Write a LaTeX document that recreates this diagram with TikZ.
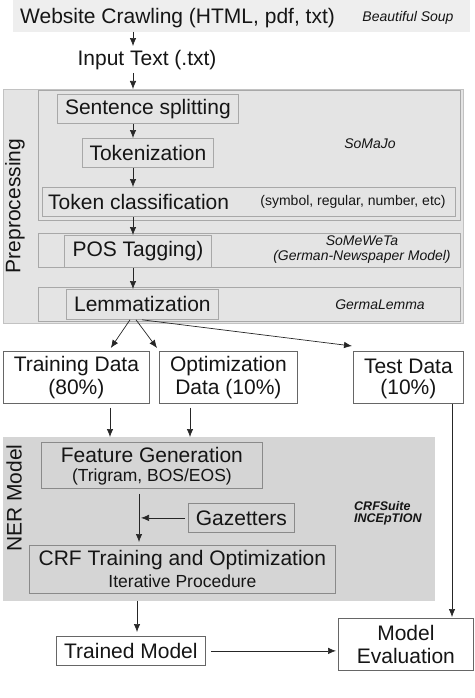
\documentclass[tikz,border=0pt]{standalone}
\usepackage{fontspec}
\setmainfont{Liberation Sans}
\usetikzlibrary{arrows.meta}
\definecolor{bannerfill}{HTML}{EEEEEE}
\definecolor{prefill}{HTML}{E4E4E4}
\definecolor{preline}{HTML}{A8A8A8}
\definecolor{nerfill}{HTML}{D5D5D5}
\definecolor{nerline}{HTML}{8A8A8A}
\definecolor{wline}{HTML}{666666}
\definecolor{txt}{HTML}{151515}
\tikzset{
  bigfont/.style={font=\fontsize{21}{24}\selectfont, text=txt},
  midfont/.style={font=\fontsize{17.5}{20}\selectfont, text=txt},
  smallit/.style={font=\fontsize{14}{16}\selectfont\itshape, text=txt},
  smallrm/.style={font=\fontsize{14}{16}\selectfont, text=txt},
  boldit/.style={font=\fontsize{12.5}{14}\selectfont\bfseries\itshape, text=txt, align=left},
  gbox/.style={draw=preline, fill=prefill, line width=0.8pt, inner sep=0pt, bigfont},
  nbox/.style={draw=nerline, fill=nerfill, line width=0.8pt, inner sep=0pt, bigfont, align=center},
  wbox/.style={draw=wline, fill=white, line width=0.8pt, inner sep=0pt, bigfont, align=center},
  arr/.style={draw=black!85, line width=0.7pt, -{Latex[length=8pt,width=6.5pt]}},
}
\begin{document}
\begin{tikzpicture}[x=1pt,y=-1pt]
\useasboundingbox (0,0) rectangle (474,698);
% banner
\fill[bannerfill] (13,0) rectangle (470,32);
\node[bigfont, anchor=west, inner sep=0pt] (crawl) at (20,18) {Website Crawling (HTML, pdf, txt)};
\node[smallit, inner sep=0pt] (bsoup) at (408,18) {Beautiful Soup};
\coordinate (ax) at (133,0);
\node[bigfont, inner sep=0pt] (input) at (147,60) {Input Text (.txt)};

% preprocessing
\node[draw=prefill!85!black, fill=prefill, line width=0.5pt, minimum width=460pt, minimum height=234pt, anchor=north west, inner sep=0pt] (pre) at (3,89) {};
\node[bigfont, rotate=90, inner sep=0pt] (prelabel) at (15,206) {Preprocessing};
\node[draw=preline, fill=prefill, line width=0.6pt, minimum width=422pt, minimum height=130pt, anchor=north west, inner sep=0pt] (grp1) at (38,90) {};
\node[gbox, minimum width=181pt, minimum height=29pt, anchor=north west] (ss) at (57,94) {};
\node[bigfont, inner sep=0pt] at (ss.center) {Sentence splitting};
\node[gbox, minimum width=131pt, minimum height=29pt, anchor=north west] (tok) at (82,138) {};
\node[bigfont, inner sep=0pt] at (tok.center) {Tokenization};
\node[gbox, minimum width=413pt, minimum height=29pt, anchor=north west] (tc) at (42,187) {};
\node[bigfont, anchor=west, inner sep=0pt] (tclab) at ([xshift=6pt]tc.west) {Token classification};
\node[smallrm, anchor=east, inner sep=0pt] (tcnote) at ([xshift=-10pt]tc.east) {(symbol, regular, number, etc)};
\node[smallit, inner sep=0pt] (somajo) at (370,144) {SoMaJo};

\node[draw=preline, fill=prefill, line width=0.6pt, minimum width=422pt, minimum height=34pt, anchor=north west, inner sep=0pt] (grp2) at (38,233) {};
\node[gbox, minimum width=147pt, minimum height=32pt, anchor=north west] (pos) at (64,235) {};
\node[bigfont, inner sep=0pt] at (pos.center) {POS Tagging)};
\node[smallit, inner sep=0pt] (someweta) at (362,241) {SoMeWeTa};
\node[smallit, inner sep=0pt] (gnm) at (362,257) {(German-Newspaper Model)};

\node[draw=preline, fill=prefill, line width=0.6pt, minimum width=422pt, minimum height=34pt, anchor=north west, inner sep=0pt] (grp3) at (38,287) {};
\node[gbox, minimum width=152pt, minimum height=30pt, anchor=north west] (lem) at (66,289) {};
\node[bigfont, inner sep=0pt] at (lem.center) {Lemmatization};
\node[smallit, inner sep=0pt] (germa) at (380,305) {GermaLemma};

% data split
\node[wbox, minimum width=146pt, minimum height=52pt, anchor=north west] (train) at (3,351) {};
\node[bigfont, inner sep=0pt] at ([yshift=11.5pt]train.center) {Training Data};
\node[bigfont, inner sep=0pt] at ([yshift=-12pt]train.center) {(80\%)};
\node[wbox, minimum width=138pt, minimum height=52pt, anchor=north west] (opt) at (159,351) {};
\node[bigfont, inner sep=0pt] at ([yshift=11.5pt]opt.center) {Optimization};
\node[bigfont, inner sep=0pt] at ([yshift=-12pt]opt.center) {Data (10\%)};
\node[wbox, minimum width=110pt, minimum height=52pt, anchor=north west] (test) at (353,351) {};
\node[bigfont, inner sep=0pt] at ([yshift=11.5pt]test.center) {Test Data};
\node[bigfont, inner sep=0pt] at ([yshift=-12pt]test.center) {(10\%)};

% NER
\node[fill=nerfill, minimum width=432pt, minimum height=164pt, anchor=north west, inner sep=0pt] (ner) at (3,437) {};
\node[bigfont, rotate=90, inner sep=0pt] (nerlabel) at (14,498) {NER Model};
\node[nbox, minimum width=221pt, minimum height=46pt, anchor=north west] (fg) at (41,442) {};
\node[bigfont, inner sep=0pt] at ([yshift=10pt]fg.center) {Feature Generation};
\node[midfont, inner sep=0pt] at ([yshift=-12pt]fg.center) {(Trigram, BOS/EOS)};
\node[nbox, minimum width=106pt, minimum height=29pt, anchor=north west] (gaz) at (188,503) {};
\node[bigfont, inner sep=0pt] at (gaz.center) {Gazetters};
\node[nbox, minimum width=306pt, minimum height=48pt, anchor=north west] (crf) at (29,545) {};
\node[bigfont, inner sep=0pt] at ([yshift=9pt]crf.center) {CRF Training and Optimization};
\node[midfont, inner sep=0pt] at ([yshift=-12pt]crf.center) {Iterative Procedure};
\node[boldit, anchor=west, inner sep=0pt] (crfs) at (354,506) {CRFSuite};
\node[boldit, anchor=west, inner sep=0pt] (incep) at (354,519.5) {INCEpTION};

% outputs
\node[wbox, minimum width=149pt, minimum height=29pt, anchor=north west] (trained) at (56,636) {};
\node[bigfont, inner sep=0pt] at (trained.center) {Trained Model};
\node[wbox, minimum width=135pt, minimum height=52pt, anchor=north west] (eval) at (338,618) {};
\node[bigfont, inner sep=0pt] at ([yshift=11.5pt]eval.center) {Model};
\node[bigfont, inner sep=0pt] at ([yshift=-12pt]eval.center) {Evaluation};

% coordinates for connectors
\coordinate (fgx) at (139,0);
\coordinate (crfx) at (137,0);
\coordinate (testx) at (452,0);
\coordinate (trx) at (110,0);
\coordinate (opx) at (190,0);
\coordinate (gzx) at (141,0);

% connectors
\draw[arr] ([yshift=-4pt]crawl.south -| ax) -- ([yshift=4pt]input.north -| ax);
\draw[arr] ([yshift=-3pt]input.south -| ax) -- (pre.north -| ax);
\draw[arr] (ss.south -| ax) -- (tok.north -| ax);
\draw[arr] (tok.south -| ax) -- (tc.north -| ax);
\draw[arr] (tc.south -| ax) -- (pos.north -| ax);
\draw[arr] (pos.south -| ax) -- (lem.north -| ax);
\draw[arr] ([xshift=-3pt]lem.south -| ax) -- ([xshift=-39pt,yshift=3pt]train.north east);
\draw[arr] ([xshift=3pt]lem.south -| ax) -- ([xshift=-2pt,yshift=3pt]opt.north west);
\draw[arr] ([xshift=9pt]lem.south -| ax) -- ([xshift=-1pt,yshift=5pt]test.north west);
\draw[arr] ([yshift=-4pt]train.south -| trx) -- (ner.north -| trx);
\draw[arr] ([yshift=-4pt]opt.south -| opx) -- (ner.north -| opx);
\draw[arr] ([yshift=-5pt]fg.south -| fgx) -- ([yshift=3pt]crf.north -| fgx);
\draw[arr] ([xshift=-3pt]gaz.west) -- (gaz.west -| gzx);
\draw[arr] ([yshift=-7pt]crf.south -| crfx) -- ([yshift=4pt]trained.north -| crfx);
\draw[arr] ([xshift=5pt]trained.east) -- ([xshift=-2pt]trained.east -| eval.west);
\draw[arr] (test.south -| testx) -- ([yshift=1pt]eval.north -| testx);
\end{tikzpicture}
\end{document}
